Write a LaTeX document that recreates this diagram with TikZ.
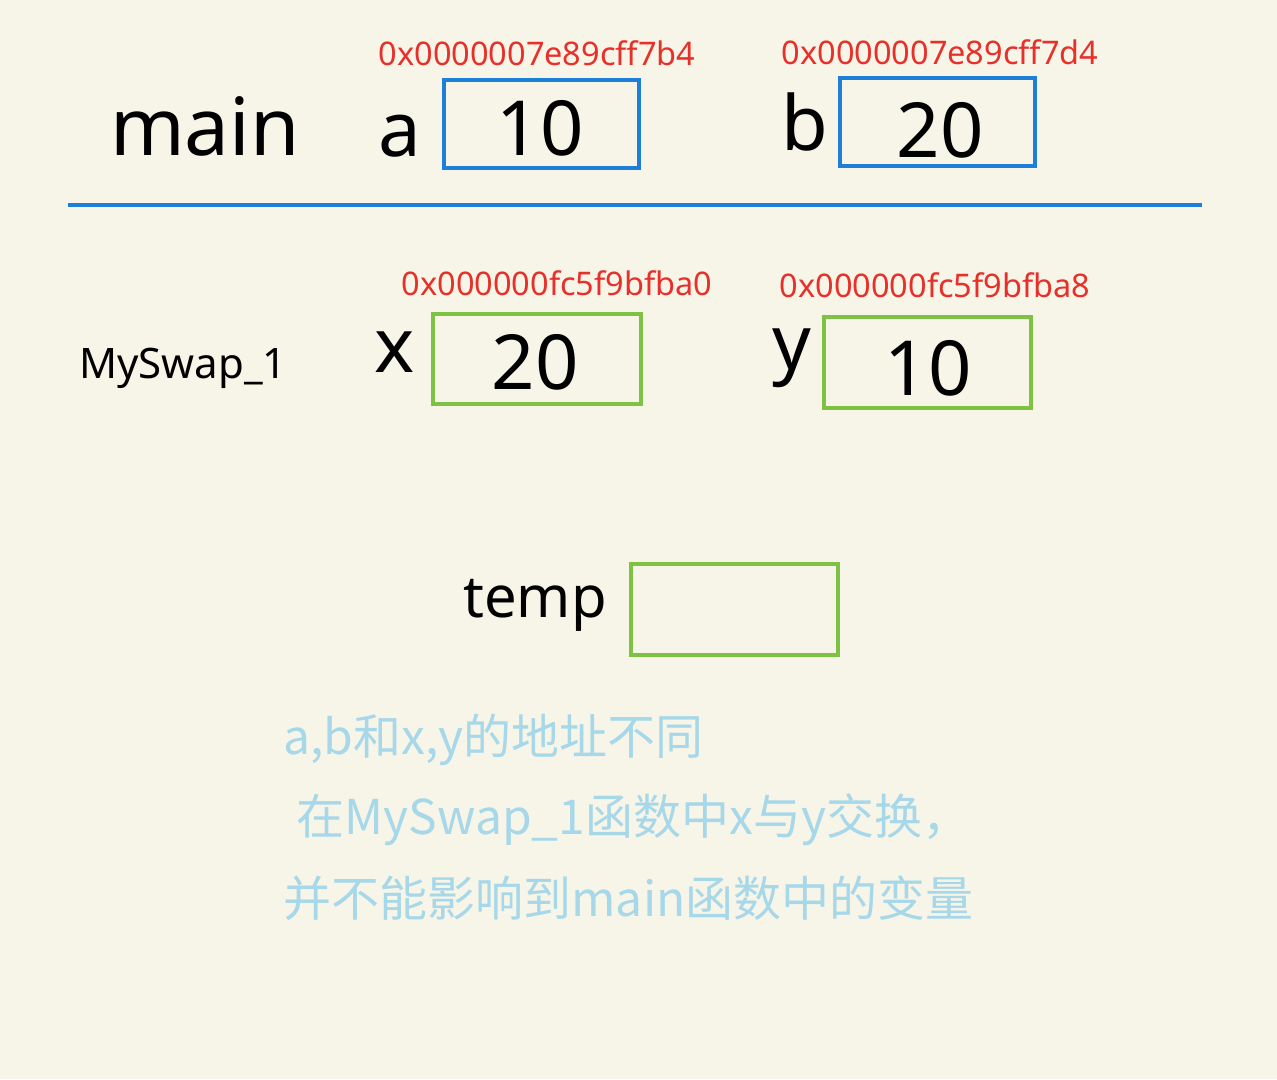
\documentclass[tikz,border=0pt]{standalone}
\usepackage{fontspec}
\setmainfont{Noto Sans}
\newfontfamily\cjk{Noto Sans CJK SC}
\definecolor{bg}{HTML}{F7F4E8}
\definecolor{bbox}{HTML}{1E7FD8}
\definecolor{gbox}{HTML}{7DC242}
\definecolor{redt}{HTML}{E8302A}
\definecolor{lblue}{HTML}{A6D8EA}
\begin{document}
\begin{tikzpicture}[x=1pt,y=-1pt,
  bluebox/.style={draw=bbox,line width=4pt},
  greenbox/.style={draw=gbox,line width=4pt},
  big/.style={font=\fontsize{76}{86}\selectfont},
  addr/.style={text=redt,font=\fontsize{32.5}{36}\selectfont},
  note/.style={text=lblue,anchor=west,font=\cjk\fontsize{48}{54}\selectfont}]
\fill[bg] (0,0) rectangle (1277,1079);
\useasboundingbox (0,0) rectangle (1277,1079);
\draw[bluebox] (444,80) rectangle (639,168);
\draw[bluebox] (840,78) rectangle (1035,166);
\draw[draw=bbox,line width=4pt] (68,205) -- (1202,205);
\draw[greenbox] (433,314) rectangle (641,404);
\draw[greenbox] (824,317) rectangle (1031,408);
\draw[greenbox] (631,564) rectangle (838,655);
\node[font=\fontsize{80}{90}\selectfont] (main) at (205,126) {main};
\node[big] (a) at (400,136) {a};
\node[big] (va) at (540,128) {10};
\node[big] (b) at (805,122) {b};
\node[big] (vb) at (940,130) {20};
\node[addr] (aa) at (537,53) {0x0000007e89cff7b4};
\node[addr] (ab) at (940,52) {0x0000007e89cff7d4};
\node[addr] (ax) at (557,283) {0x000000fc5f9bfba0};
\node[addr] (ay) at (935,285) {0x000000fc5f9bfba8};
\node[font=\fontsize{42}{48}\selectfont] (ms) at (183,368) {MySwap\_1};
\node[big] (x) at (395,352) {x};
\node[big] (vx) at (535,362) {20};
\node[big] (y) at (792,358) {y};
\node[big] (vy) at (928,368) {10};
\node[font=\fontsize{58}{64}\selectfont] (temp) at (535,605) {temp};
\node[note] (n1) at (280,740) {a,b和x,y的地址不同};
\node[note] (n2) at (293,820) {在MySwap\_1函数中x与y交换，};
\node[note] (n3) at (280,898) {并不能影响到main函数中的变量};
\end{tikzpicture}
\end{document}
